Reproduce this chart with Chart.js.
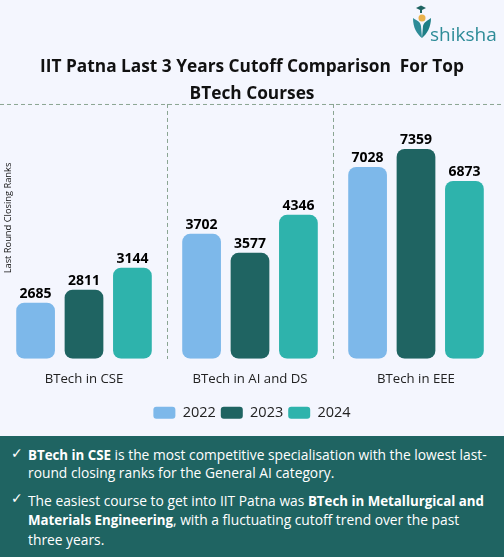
<!DOCTYPE html>
<html><head><meta charset="utf-8">
<style>
html,body{margin:0;padding:0;background:#F4F6FE;width:504px;height:557px;overflow:hidden;font-family:"Open Sans",sans-serif}
#wrap{position:absolute;left:0;top:0;width:504px;height:436px}
#logo{position:absolute;left:412px;top:4px;width:90px;height:40px}
#logoText{position:absolute;left:430px;top:21px;font:500 19px "Open Sans",sans-serif;color:#2E8C98}
#panel{position:absolute;left:0;top:436px;width:504px;height:121px;background:#1F6462;color:#fff;font:13.8px/19.5px "Open Sans",sans-serif}
#panel b{font-size:13.3px}
.l{position:absolute;left:28px;white-space:pre}
.c{position:absolute;left:11px;font:14px "DejaVu Sans",sans-serif}
</style></head><body>
<div id="wrap"><canvas id="c" width="504" height="436"></canvas></div>
<svg id="logo" viewBox="0 0 90 40"><path d="M4 4l5-2.500 5 2.500-5 2.500z" fill="#1F6462"/><rect x="8" y="5" width="2" height="4" fill="#1F6462"/><path d="M1 14c4 3 7 3 8 8l1 12c-5-4-9-10-9-20z" fill="#2E8C98"/><path d="M19 14c-4 3-7 4-8 8l-1 12c5-4 9-11 9-20z" fill="#1F7F86"/><circle cx="10" cy="14" r="3.500" fill="#E9B24B"/></svg>
<div id="logoText">shiksha</div>
<div id="panel">
<div class="c" style="top:9px">✓</div>
<div class="l" style="top:9px"><b>BTech in CSE</b> is the most competitive specialisation with the lowest last-</div>
<div class="l" style="top:27px">round closing ranks for the General AI category.</div>
<div class="c" style="top:54px">✓</div>
<div class="l" style="top:55px">The easiest course to get into IIT Patna was <b>BTech in Metallurgical and</b></div>
<div class="l" style="top:74px"><b>Materials Engineering</b>, with a fluctuating cutoff trend over the past</div>
<div class="l" style="top:94px">three years.</div>
</div>
<script src="https://cdn.jsdelivr.net/npm/chart.js@4/dist/chart.umd.min.js"></script>
<script>
const categories = ["BTech in CSE", "BTech in AI and DS", "BTech in EEE"];
const years = ["2022", "2023", "2024"];
// Closing ranks printed above the bars
const ranks2022 = [2685, 3702, 7028];
const ranks2023 = [2811, 3577, 7359];
const ranks2024 = [3144, 4346, 6873];
// The reference's bars are not proportional to their printed ranks, so the
// drawn lengths are read off the picture separately (arbitrary units).
const drawn2022 = [56, 125, 192];
const drawn2023 = [69, 106, 210];
const drawn2024 = [91, 144, 178];
const yMax = 255;
const colors = ["#7DB8EA", "#1F6462", "#2EB3AC"];
const drawn = [drawn2022, drawn2023, drawn2024];
const ranks = [ranks2022, ranks2023, ranks2024];

const dataLabels = {
  id: "dataLabels",
  afterDatasetsDraw(chart) {
    const ctx = chart.ctx;
    ctx.save();
    ctx.font = "bold 14px 'Open Sans'";
    ctx.fillStyle = "#000";
    ctx.textAlign = "center";
    ctx.textBaseline = "bottom";
    chart.data.datasets.forEach((ds, i) => {
      chart.getDatasetMeta(i).data.forEach((bar, j) => {
        ctx.fillText(String(ranks[i][j]), bar.x, bar.y - 2);
      });
    });
    ctx.restore();
  }
};
const yTitle = {
  id: "yTitle",
  afterDraw(chart) {
    const ctx = chart.ctx;
    ctx.save();
    ctx.translate(8, 218);
    ctx.rotate(-Math.PI / 2);
    ctx.font = "9.3px 'Open Sans'";
    ctx.fillStyle = "#111";
    ctx.textAlign = "center";
    ctx.textBaseline = "middle";
    ctx.fillText("Last Round Closing Ranks", 0, 0);
    ctx.restore();
  }
};
const topRule = {
  id: "topRule",
  beforeDatasetsDraw(chart) {
    const ctx = chart.ctx, t = chart.chartArea.top;
    ctx.save();
    ctx.strokeStyle = "#8AA593";
    ctx.setLineDash([4, 3]);
    ctx.lineWidth = 1;
    ctx.beginPath();
    ctx.moveTo(0, t + .5);
    ctx.lineTo(504, t + .5);
    ctx.stroke();
    ctx.restore();
  }
};
new Chart(document.getElementById("c"), {
  type: "bar",
  data: {
    labels: categories,
    datasets: years.map((y, i) => ({
      label: y,
      data: drawn[i],
      backgroundColor: colors[i],
      borderRadius: 8,
      borderSkipped: false,
      categoryPercentage: 0.875,
      barPercentage: 0.8
    }))
  },
  options: {
    responsive: false,
    animation: false,
    layout: { padding: { left: 1, right: 1, top: 0, bottom: 6 } },
    scales: {
      x: {
        offset: true,
        border: { display: false, dash: [4, 3] },
        grid: {
          drawTicks: false,
          color: c => (c.index === 1 || c.index === 2) ? "#8AA593" : "transparent"
        },
        ticks: { color: "#222", font: { size: 13.2, family: "'Open Sans'" }, padding: 13 }
      },
      y: {
        min: 0, max: yMax,
        display: false
      },
      spacer: {
        position: "right",
        display: true,
        grid: { display: false },
        border: { display: false },
        ticks: { display: false },
        afterFit(s) { s.width = 4; }
      }
    },
    plugins: {
      title: {
        display: true,
        text: ["IIT Patna Last 3 Years Cutoff Comparison  For Top", "BTech Courses"],
        color: "#111",
        font: { size: 17.3, weight: "bold", family: "'Open Sans'", lineHeight: 1.56 },
        padding: { top: 54, bottom: -4 }
      },
      legend: {
        position: "bottom",
        labels: {
          boxWidth: 22, boxHeight: 12, padding: 5, color: "#222",
          font: { size: 14.5, family: "'Open Sans'" },
          generateLabels: chart => chart.data.datasets.map((d, i) => ({
            text: d.label, fillStyle: colors[i], strokeStyle: colors[i], lineWidth: 0,
            borderRadius: 3, datasetIndex: i, fontColor: "#222"
          })),
          useBorderRadius: true, borderRadius: 3
        }
      },
      tooltip: { enabled: false }
    }
  },
  plugins: [topRule, dataLabels, yTitle]
});
</script>
</body></html>
